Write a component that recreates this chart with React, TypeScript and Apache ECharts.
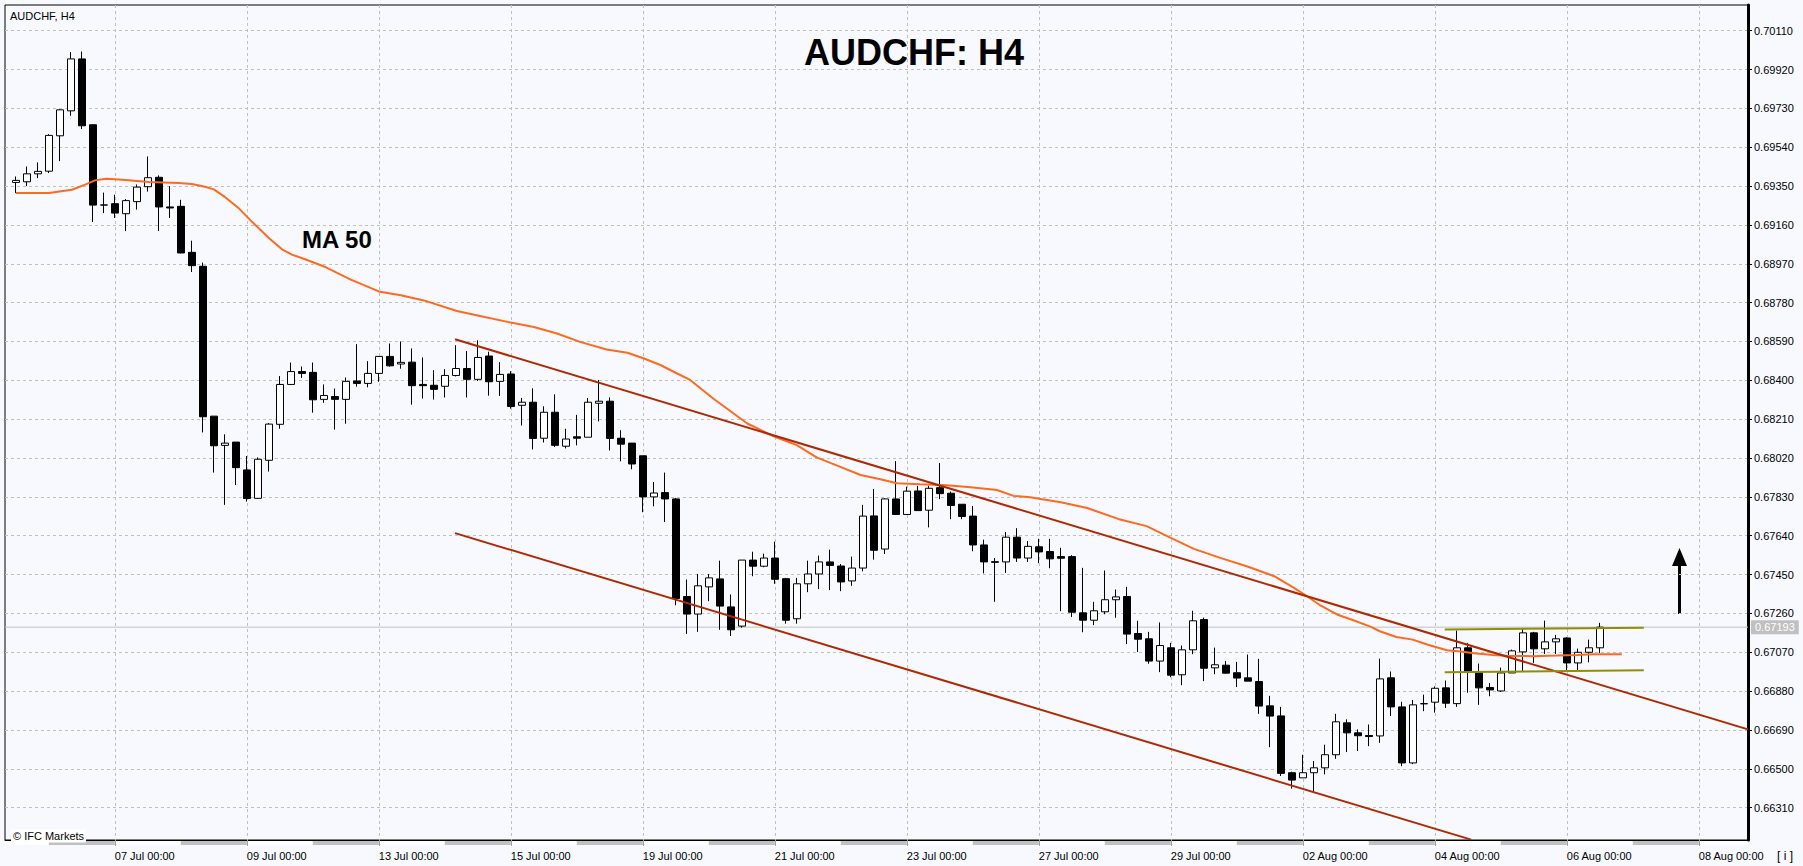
import React, { useEffect, useRef } from "react";
import * as echarts from "echarts";

// ---- candle data (H4 bars, index 0 = 05 Jul 12:00) ----
const candleOpen = [
  0.69368, 0.69371, 0.6941, 0.69423, 0.69596, 0.69718, 0.69972, 0.6965, 0.69258, 0.69264,
  0.69215, 0.69274, 0.69347, 0.69393, 0.69248, 0.69251, 0.69026, 0.68958, 0.68225, 0.68082,
  0.68098, 0.67962, 0.67823, 0.68009, 0.68185, 0.6838, 0.68443, 0.68439, 0.68307, 0.68321,
  0.68307, 0.68397, 0.68385, 0.68434, 0.68517, 0.6848, 0.68489, 0.6838, 0.68376, 0.68371,
  0.68424, 0.68458, 0.68405, 0.68519, 0.68395, 0.68431, 0.68278, 0.68293, 0.68117, 0.68244,
  0.68078, 0.68124, 0.68122, 0.68288, 0.68298, 0.68117, 0.68093, 0.68031, 0.6783, 0.67851,
  0.6782, 0.67343, 0.67257, 0.6739, 0.67429, 0.67292, 0.67198, 0.67521, 0.67491, 0.67531,
  0.6743, 0.67234, 0.67405, 0.67453, 0.67512, 0.67492, 0.67419, 0.67482, 0.67737, 0.67575,
  0.6782, 0.67744, 0.67859, 0.67765, 0.67875, 0.67848, 0.67794, 0.67736, 0.67595, 0.67513,
  0.67512, 0.67633, 0.67531, 0.67586, 0.67563, 0.67538, 0.67538, 0.67263, 0.67227, 0.67268,
  0.67327, 0.67343, 0.67162, 0.67136, 0.67027, 0.67092, 0.6696, 0.67082, 0.6723, 0.66994,
  0.67007, 0.6697, 0.66945, 0.66927, 0.66808, 0.66759, 0.66481, 0.66456, 0.66481, 0.66505,
  0.66569, 0.66725, 0.66676, 0.66663, 0.66661, 0.66945, 0.66803, 0.66529, 0.66818, 0.66826,
  0.66896, 0.66819, 0.67092, 0.66971, 0.66898, 0.66881, 0.66969, 0.67072, 0.67165, 0.67087,
  0.67121, 0.6714, 0.67018, 0.6707, 0.67092,
];
const candleHigh = [
  0.69397, 0.69446, 0.69466, 0.69604, 0.69725, 0.70005, 0.70008, 0.69651, 0.69318, 0.69308,
  0.69287, 0.69358, 0.69495, 0.69402, 0.6935, 0.69283, 0.69083, 0.68976, 0.68225, 0.68136,
  0.68098, 0.6803, 0.68023, 0.68191, 0.68421, 0.68487, 0.68468, 0.68487, 0.6838, 0.6836,
  0.68414, 0.68577, 0.68494, 0.68517, 0.6858, 0.6859, 0.68556, 0.68512, 0.6845, 0.68455,
  0.68572, 0.68543, 0.68596, 0.6854, 0.68489, 0.68445, 0.68314, 0.68361, 0.68273, 0.68332,
  0.68163, 0.68231, 0.68314, 0.68402, 0.68317, 0.68156, 0.68093, 0.68031, 0.67903, 0.67949,
  0.67825, 0.67426, 0.67453, 0.67453, 0.67518, 0.67353, 0.67521, 0.67562, 0.67552, 0.67611,
  0.67434, 0.67434, 0.67518, 0.67543, 0.67572, 0.67502, 0.67538, 0.67791, 0.67869, 0.67823,
  0.68005, 0.6788, 0.67884, 0.67884, 0.67996, 0.67856, 0.67794, 0.67786, 0.67621, 0.67531,
  0.67658, 0.67677, 0.67614, 0.67625, 0.67625, 0.67581, 0.67545, 0.67483, 0.67317, 0.6747,
  0.67377, 0.6739, 0.67224, 0.6717, 0.67216, 0.67116, 0.67103, 0.67273, 0.6724, 0.67093,
  0.67027, 0.67023, 0.67059, 0.67038, 0.66857, 0.66803, 0.66486, 0.66569, 0.66538, 0.66618,
  0.66769, 0.66742, 0.66693, 0.66717, 0.67039, 0.66976, 0.66828, 0.66837, 0.66863, 0.66903,
  0.66932, 0.67176, 0.67116, 0.67015, 0.6692, 0.66995, 0.67083, 0.67184, 0.6717, 0.67225,
  0.67155, 0.67144, 0.67088, 0.67132, 0.67214,
];
const candleLow = [
  0.69316, 0.6935, 0.69389, 0.69414, 0.69472, 0.69694, 0.69629, 0.69174, 0.69218, 0.69194,
  0.6913, 0.69235, 0.69323, 0.6913, 0.69194, 0.69021, 0.6893, 0.68145, 0.67949, 0.67791,
  0.67888, 0.67807, 0.67822, 0.67954, 0.68163, 0.6838, 0.68412, 0.68242, 0.6829, 0.68159,
  0.68188, 0.68369, 0.68366, 0.68393, 0.68467, 0.68457, 0.68281, 0.68311, 0.68306, 0.68316,
  0.68419, 0.68316, 0.68397, 0.68325, 0.68324, 0.68262, 0.68179, 0.68062, 0.68096, 0.68074,
  0.68067, 0.68082, 0.68122, 0.68199, 0.68057, 0.68004, 0.67965, 0.67755, 0.67784, 0.67707,
  0.673, 0.6716, 0.6717, 0.6732, 0.6718, 0.6715, 0.6719, 0.67442, 0.67486, 0.67405,
  0.6721, 0.6721, 0.67364, 0.67379, 0.67374, 0.67369, 0.67395, 0.67466, 0.67523, 0.67551,
  0.67744, 0.67744, 0.67763, 0.67681, 0.67819, 0.67721, 0.67721, 0.67564, 0.67456, 0.67317,
  0.67458, 0.67512, 0.67512, 0.67506, 0.67481, 0.67271, 0.67243, 0.67168, 0.67203, 0.67256,
  0.67239, 0.6711, 0.67071, 0.67014, 0.66973, 0.66948, 0.66909, 0.67061, 0.66929, 0.66963,
  0.66966, 0.669, 0.66929, 0.66769, 0.66606, 0.66465, 0.66403, 0.66456, 0.66383, 0.66473,
  0.66549, 0.66582, 0.66587, 0.66611, 0.66627, 0.66758, 0.66513, 0.66523, 0.66782, 0.66775,
  0.66798, 0.66803, 0.66872, 0.66813, 0.66855, 0.66876, 0.66969, 0.66979, 0.67018, 0.67062,
  0.67062, 0.66977, 0.66982, 0.67021, 0.67067,
];
const candleClose = [
  0.69378, 0.6941, 0.69422, 0.69598, 0.69723, 0.69972, 0.69645, 0.69257, 0.69257, 0.69218,
  0.69279, 0.69345, 0.69391, 0.69248, 0.69243, 0.69023, 0.68961, 0.68222, 0.6808, 0.68093,
  0.67973, 0.67822, 0.68014, 0.68186, 0.6838, 0.68443, 0.68434, 0.68305, 0.68326, 0.68307,
  0.68395, 0.68385, 0.68434, 0.68517, 0.68471, 0.68488, 0.68374, 0.68374, 0.68356, 0.68424,
  0.68458, 0.68405, 0.68512, 0.68393, 0.68429, 0.68272, 0.68293, 0.68116, 0.68244, 0.68082,
  0.68113, 0.68117, 0.68293, 0.68298, 0.68116, 0.68088, 0.67991, 0.6783, 0.67849, 0.6782,
  0.67333, 0.67257, 0.67395, 0.67434, 0.67296, 0.6718, 0.67521, 0.67491, 0.67531, 0.67427,
  0.67227, 0.67405, 0.67453, 0.67512, 0.67495, 0.67414, 0.67482, 0.67736, 0.67569, 0.6782,
  0.67744, 0.67858, 0.67763, 0.67872, 0.67846, 0.67788, 0.67734, 0.67595, 0.67512, 0.6751,
  0.67633, 0.67531, 0.67588, 0.67561, 0.67527, 0.6753, 0.67266, 0.67227, 0.67273, 0.67327,
  0.67341, 0.67159, 0.67134, 0.67027, 0.67103, 0.66958, 0.67082, 0.67224, 0.66992, 0.67009,
  0.66968, 0.66944, 0.66929, 0.66807, 0.66758, 0.66478, 0.66445, 0.66481, 0.66505, 0.66569,
  0.6673, 0.66676, 0.66662, 0.66658, 0.6694, 0.66803, 0.66529, 0.66813, 0.66819, 0.66894,
  0.66821, 0.67092, 0.66977, 0.66896, 0.66886, 0.66969, 0.67077, 0.67165, 0.67087, 0.67121,
  0.67136, 0.67018, 0.6707, 0.67092, 0.67193,
];

// ---- MA 50 ----
const maIdx = [
  0, 3, 5.1, 6.3, 7.2, 8.2, 9, 10, 12.1, 14.8, 16, 17.2, 18, 19, 20.3, 21.5, 23, 24.2, 25.1, 26.3,
  28.2, 30.4, 33, 35, 37.1, 40.1, 42.2, 44.7, 47.1, 49.2, 51.3, 53.7, 55.6, 57.1, 58.6, 59.8, 61.3,
  63.4, 66.5, 69, 71, 72.8, 74.9, 76.8, 78.6, 80.1, 82.2, 84.6, 86.8, 89.2, 90.7, 92.2, 95, 97.4,
  100.4, 102.8, 105, 107.1, 109.5, 111.9, 114.4, 116.2, 117.4, 118.6, 120.1, 121.6, 123.2, 124,
  125.5, 127, 128.3, 130.1, 131.3, 132.8, 134.3, 135.8, 138, 140.1, 142, 143.4, 146,
];
const maVal = [
  0.69316, 0.69316, 0.69332, 0.69357, 0.69378, 0.69386, 0.69384, 0.6938, 0.6937, 0.69365,
  0.6936, 0.69347, 0.69334, 0.69297, 0.6924, 0.69174, 0.69096, 0.69041, 0.69015, 0.68992,
  0.68953, 0.68894, 0.68835, 0.68816, 0.68791, 0.68739, 0.68715, 0.68686, 0.68661, 0.68629,
  0.68588, 0.68551, 0.68535, 0.68507, 0.68475, 0.68442, 0.68402, 0.68311, 0.68189, 0.68124,
  0.68083, 0.68023, 0.67978, 0.67937, 0.67916, 0.67897, 0.67892, 0.67887, 0.67877, 0.67864,
  0.67835, 0.67828, 0.67804, 0.67776, 0.67719, 0.67687, 0.6763, 0.67576, 0.67532, 0.67491,
  0.67442, 0.67385, 0.67344, 0.67299, 0.67255, 0.67227, 0.67194, 0.67173, 0.67145, 0.67132,
  0.67108, 0.6708, 0.67074, 0.67064, 0.67057, 0.67052, 0.67051, 0.67054, 0.67057, 0.67061,
  0.67061,
];

// ---- drawn objects ----
const upperChannel = [[39.93, 0.68601], [157.47, 0.66693]];
const lowerChannel = [[39.93, 0.67653], [132.3, 0.66154]];
const rangeTop = [[129.9, 0.67182], [148, 0.6719]];
const rangeBottom = [[129.9, 0.66972], [148, 0.66982]];
const lastPrice = 0.67193;

// ---- axes ----
const yTicks = [
  0.6631, 0.665, 0.6669, 0.6688, 0.6707, 0.6726, 0.6745, 0.6764, 0.6783, 0.6802, 0.6821,
  0.684, 0.6859, 0.6878, 0.6897, 0.6916, 0.6935, 0.6954, 0.6973, 0.6992, 0.7011,
];
const xTickIdx = [9, 21, 33, 45, 57, 69, 81, 93, 105, 117, 129, 141, 153];
const xTickLabels = [
  "07 Jul 00:00", "09 Jul 00:00", "13 Jul 00:00", "15 Jul 00:00", "19 Jul 00:00",
  "21 Jul 00:00", "23 Jul 00:00", "27 Jul 00:00", "29 Jul 00:00", "02 Aug 00:00",
  "04 Aug 00:00", "06 Aug 00:00", "08 Aug 00:00",
];
const dayBandStarts = [3, 15, 27, 39, 51, 63, 75, 87, 99, 111, 123, 135, 147];

const BG = "#F7F9FE";
const FONT = '"Liberation Sans", Arial, sans-serif';
const X_MIN = -0.98182;
const X_MAX = 157.4727;
const Y_MIN = 0.66152;
const Y_MAX = 0.702357;

export default function App() {
  const ref = useRef<HTMLDivElement>(null);

  useEffect(() => {
    const chart = echarts.init(ref.current as HTMLDivElement, null, { renderer: "svg" });

    const candles = candleOpen.map((o, i) => [i, o, candleClose[i], candleLow[i], candleHigh[i]]);
    const ma = maIdx.map((x, k) => [x, maVal[k]]);
    const bands = dayBandStarts.map((s) => [s, s + 6]);
    const priceLine = [[X_MIN, lastPrice], [X_MAX, lastPrice]];

    const lineSeries = (data: number[][], color: string, width: number, z = 5) => ({
      type: "line",
      xAxisIndex: 0,
      yAxisIndex: 0,
      data,
      showSymbol: false,
      symbol: "none",
      silent: true,
      lineStyle: { color, width },
      z,
    });

    const option: any = {
      animation: false,
      backgroundColor: BG,
      grid: [
        {
          left: 5, top: 5, width: 1743, height: 835,
          show: true, borderColor: "#000", borderWidth: 1, backgroundColor: BG,
        },
        {
          left: 5, top: 841, width: 1743, height: 4,
          show: true, borderWidth: 0, backgroundColor: "#FFFFFF",
        },
      ],
      xAxis: [
        {
          type: "value", gridIndex: 0, min: X_MIN, max: X_MAX, position: "bottom",
          axisLine: { show: true, onZero: false, lineStyle: { color: "#000", width: 1 } },
          axisTick: { show: true, customValues: xTickIdx, length: 6, lineStyle: { color: "#A0A0A0" } },
          axisLabel: {
            show: true, customValues: xTickIdx, align: "left", margin: 10,
            color: "#000", fontSize: 11, fontFamily: FONT,
            formatter: (v: number) => xTickLabels[xTickIdx.indexOf(Math.round(v))] ?? "",
          },
          splitLine: { show: true, lineStyle: { color: "#C0C0C0", width: 1, type: [3, 3] } },
        },
        {
          type: "value", gridIndex: 1, min: X_MIN, max: X_MAX, show: false,
          splitLine: { show: false },
        },
      ],
      yAxis: [
        {
          type: "value", gridIndex: 0, position: "right", min: Y_MIN, max: Y_MAX, scale: true,
          axisLine: { show: true, onZero: false, lineStyle: { color: "#000", width: 3 } },
          axisTick: { show: true, customValues: yTicks, length: 4, lineStyle: { color: "#000" } },
          axisLabel: {
            show: true, customValues: yTicks, margin: 6,
            color: "#000", fontSize: 11, fontFamily: FONT,
            formatter: (v: number) => v.toFixed(5),
          },
          splitLine: { show: true, lineStyle: { color: "#C0C0C0", width: 1, type: [3, 3] } },
        },
        { type: "value", gridIndex: 1, min: 0, max: 1, show: false, splitLine: { show: false } },
      ],
      series: [
        {
          ...lineSeries(priceLine, "#C0C0C0", 1, 1),
          endLabel: {
            show: true, distance: 3,
            formatter: () => lastPrice.toFixed(5),
            color: "#FFFFFF", backgroundColor: "#C0C0C0",
            padding: [2, 4, 1, 4], fontSize: 11, fontFamily: FONT,
          },
        },
        {
          type: "candlestick",
          xAxisIndex: 0, yAxisIndex: 0,
          data: candles,
          encode: { x: 0, y: [1, 2, 3, 4] },
          barWidth: 7,
          silent: true,
          itemStyle: {
            color: "#FFFFFF", color0: "#000000",
            borderColor: "#000000", borderColor0: "#000000", borderWidth: 1,
          },
          z: 3,
        },
        lineSeries(ma, "#FF6A1F", 2),
        lineSeries(upperChannel, "#B02800", 2),
        lineSeries(lowerChannel, "#B02800", 2),
        lineSeries(rangeTop, "#8F8F00", 2),
        lineSeries(rangeBottom, "#8F8F00", 2),
        {
          type: "custom",
          xAxisIndex: 1, yAxisIndex: 1,
          data: bands,
          silent: true,
          renderItem: (params: any, api: any) => {
            const p0 = api.coord([api.value(0), 0]);
            const p1 = api.coord([api.value(1), 0]);
            return {
              type: "rect",
              shape: { x: p0[0], y: params.coordSys.y, width: p1[0] - p0[0], height: params.coordSys.height },
              style: { fill: "#C0C0C0" },
            };
          },
        },
      ],
      graphic: [
        {
          type: "text", x: 10, y: 16, silent: true,
          style: { text: "AUDCHF, H4", font: `11px ${FONT}`, fill: "#000", verticalAlign: "middle" },
        },
        {
          type: "text", x: 914, y: 52, silent: true,
          style: { text: "AUDCHF: H4", font: `bold 36px ${FONT}`, fill: "#000", align: "center", verticalAlign: "middle" },
        },
        {
          type: "text", x: 302, y: 239, silent: true,
          style: { text: "MA 50", font: `bold 24px ${FONT}`, fill: "#000", verticalAlign: "middle" },
        },
        {
          type: "text", x: 11, y: 836, silent: true, z: 10,
          style: {
            text: "© IFC Markets", font: `11px ${FONT}`, fill: "#000", verticalAlign: "middle",
            backgroundColor: "#FFFFFF", padding: [1, 2, 1, 2],
          },
        },
        {
          type: "text", x: 1777, y: 856, silent: true,
          style: { text: "[ i ]", font: `12px ${FONT}`, fill: "#000", verticalAlign: "middle" },
        },
        {
          type: "line", silent: true,
          shape: { x1: 1679.5, y1: 614, x2: 1679.5, y2: 562 },
          style: { stroke: "#000", lineWidth: 3 },
        },
        {
          type: "polygon", silent: true,
          shape: { points: [[1679.5, 548], [1672, 566], [1687, 566]] },
          style: { fill: "#000" },
        },
      ],
    };

    chart.setOption(option);
    return () => chart.dispose();
  }, []);

  return (
    <div
      ref={ref}
      style={{ position: "fixed", left: 0, top: 0, width: 1803, height: 866, background: BG }}
    />
  );
}
